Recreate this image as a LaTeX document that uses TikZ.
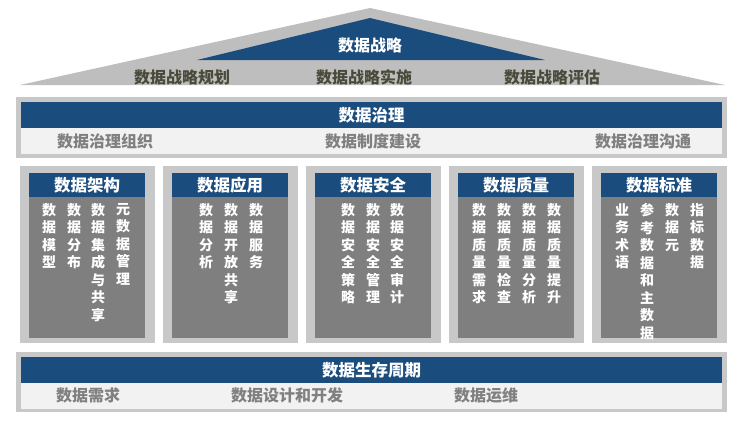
\documentclass[tikz,border=0pt]{standalone}
\usepackage{fontspec}
\setmainfont{Noto Sans CJK SC}
\usetikzlibrary{positioning}

\definecolor{hdblue}{HTML}{1A4C7E}
\definecolor{framegray}{HTML}{C8C8C8}
\definecolor{roofgray}{HTML}{BEBEBE}
\definecolor{pillargray}{HTML}{7F7F7F}
\definecolor{bandgray}{HTML}{F2F2F2}
\definecolor{bandtext}{HTML}{808080}
\definecolor{rooftext}{HTML}{4A4A3A}

\begin{document}
\begin{tikzpicture}[x=1pt,y=-1pt,
	frame/.style={fill=framegray,inner sep=0pt,minimum width=135pt,minimum height=177pt},
	pillar/.style={fill=pillargray,inner sep=0pt,minimum width=116pt,minimum height=165pt},
	head/.style={fill=hdblue,text=white,inner sep=0pt,minimum width=116pt,minimum height=24pt,
		font=\bfseries\fontsize{16.5pt}{17pt}\selectfont},
	col/.style={text=white,inner sep=0pt,align=center,
		font=\bfseries\fontsize{14pt}{17.5pt}\selectfont},
	band/.style={fill=bandgray,inner sep=0pt,minimum width=701pt,minimum height=26pt},
	bandlabel/.style={text=bandtext,inner sep=0pt,font=\bfseries\fontsize{16pt}{16pt}\selectfont},
	rooflabel/.style={text=rooftext,inner sep=0pt,font=\bfseries\fontsize{16pt}{16pt}\selectfont}]
	\useasboundingbox[fill=white] (0,0) rectangle (739,424);

	% roof
	\fill[roofgray] (20,85) -- (370,8) -- (725,85) -- cycle;
	\fill[hdblue] (197,60) -- (370,18) -- (545,60) -- cycle;
	\node[text=white,inner sep=0pt,font=\bfseries\fontsize{16pt}{16pt}\selectfont] (s_0) at (370,45) {数据战略};
	\node[rooflabel] (s_1) at (182,77) {数据战略规划};
	\node[rooflabel] (s_2) at (364,77) {数据战略实施};
	\node[rooflabel] (s_3) at (552,77) {数据战略评估};

	% governance band
	\node[frame,minimum width=711pt,minimum height=61pt] (g_f) at (371.5,127.5) {};
	\node[head,minimum width=701pt,minimum height=26pt] (g_0) at (371.5,115) {数据治理};
	\node[band] (g_b) at (371.5,141) {};
	\node[bandlabel] (g_1) at (105,141) {数据治理组织};
	\node[bandlabel] (g_2) at (373,141) {数据制度建设};
	\node[bandlabel] (g_3) at (643,141) {数据治理沟通};

	% pillars
	\node[frame] (f_1) at (87,254.5) {};
	\node[frame] (f_2) at (230,254.5) {};
	\node[frame] (f_3) at (373,254.5) {};
	\node[frame] (f_4) at (516,254.5) {};
	\node[frame] (f_5) at (659,254.5) {};
	\node[pillar] (p_1) at (87,255.5) {};
	\node[pillar] (p_2) at (230,255.5) {};
	\node[pillar] (p_3) at (373,255.5) {};
	\node[pillar] (p_4) at (516,255.5) {};
	\node[pillar] (p_5) at (659,255.5) {};
	\node[head,anchor=north] (h_1) at (p_1.north) {数据架构};
	\node[head,anchor=north] (h_2) at (p_2.north) {数据应用};
	\node[head,anchor=north] (h_3) at (p_3.north) {数据安全};
	\node[head,anchor=north] (h_4) at (p_4.north) {数据质量};
	\node[head,anchor=north] (h_5) at (p_5.north) {数据标准};

	% columns of vertical text
	\node[col,below=6pt of h_1,xshift=-38pt] (c_11) {数\\据\\模\\型};
	\node[col,below=6pt of h_1,xshift=-13pt] (c_12) {数\\据\\分\\布};
	\node[col,below=6pt of h_1,xshift=11pt] (c_13) {数\\据\\集\\成\\与\\共\\享};
	\node[col,below=6pt of h_1,xshift=36pt] (c_14) {元\\数\\据\\管\\理};
	\node[col,below=6pt of h_2,xshift=-24pt] (c_21) {数\\据\\分\\析};
	\node[col,below=6pt of h_2,xshift=1pt] (c_22) {数\\据\\开\\放\\共\\享};
	\node[col,below=6pt of h_2,xshift=26pt] (c_23) {数\\据\\服\\务};
	\node[col,below=6pt of h_3,xshift=-25pt] (c_31) {数\\据\\安\\全\\策\\略};
	\node[col,below=6pt of h_3,xshift=0pt] (c_32) {数\\据\\安\\全\\管\\理};
	\node[col,below=6pt of h_3,xshift=24pt] (c_33) {数\\据\\安\\全\\审\\计};
	\node[col,below=6pt of h_4,xshift=-37pt] (c_41) {数\\据\\质\\量\\需\\求};
	\node[col,below=6pt of h_4,xshift=-12pt] (c_42) {数\\据\\质\\量\\检\\查};
	\node[col,below=6pt of h_4,xshift=13pt] (c_43) {数\\据\\质\\量\\分\\析};
	\node[col,below=6pt of h_4,xshift=38pt] (c_44) {数\\据\\质\\量\\提\\升};
	\node[col,below=6pt of h_5,xshift=-37pt] (c_51) {业\\务\\术\\语};
	\node[col,below=6pt of h_5,xshift=-12pt] (c_52) {参\\考\\数\\据\\和\\主\\数\\据};
	\node[col,below=6pt of h_5,xshift=13pt] (c_53) {数\\据\\元};
	\node[col,below=6pt of h_5,xshift=38pt] (c_54) {指\\标\\数\\据};

	% lifecycle band
	\node[frame,minimum width=711pt,minimum height=60pt] (l_f) at (371.5,382) {};
	\node[head,minimum width=701pt,minimum height=26pt] (l_0) at (371.5,370) {数据生存周期};
	\node[band] (l_b) at (371.5,396) {};
	\node[bandlabel] (l_1) at (88,395) {数据需求};
	\node[bandlabel] (l_2) at (287,395) {数据设计和开发};
	\node[bandlabel] (l_3) at (486,395) {数据运维};
\end{tikzpicture}
\end{document}
